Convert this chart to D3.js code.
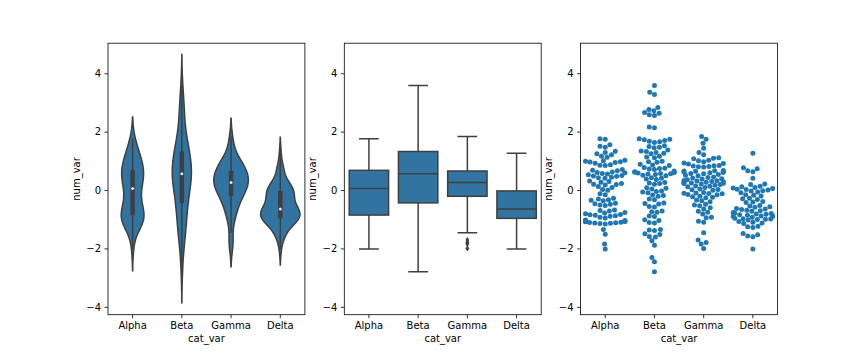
<!DOCTYPE html>
<html>
<head>
<meta charset="utf-8">
<script src="https://cdn.jsdelivr.net/npm/d3@7"></script>
<style>
  html, body { margin: 0; padding: 0; background: #ffffff; }
  svg { display: block; }
  text { font-family: "DejaVu Sans", sans-serif; }
</style>
</head>
<body>
<svg id="chart" width="864" height="360"></svg>
<script>
// ---------------- data ----------------
const categories = ["Alpha", "Beta", "Gamma", "Delta"];

const alphaValues = [1.76, 1.74, 1.55, 1.50, 1.47, 1.33, 1.29, 1.24, 1.21, 1.16, 1.12,
  1.02, 1.00, 0.99, 0.97, 0.96, 0.94, 0.92, 0.87, 0.85, 0.84, 0.70, 0.68, 0.66,
  0.62, 0.60, 0.59, 0.57, 0.55, 0.52, 0.50, 0.48, 0.47, 0.44, 0.42, 0.40,
  0.31, 0.29, 0.27, 0.22, 0.20, 0.19, 0.17, 0.12, 0.09, 0.02, -0.01, -0.13, -0.16,
  -0.28, -0.31, -0.33, -0.35, -0.37, -0.45, -0.47, -0.49, -0.51, -0.53,
  -0.68, -0.70, -0.72, -0.77, -0.79, -0.81, -0.84, -0.85, -0.86, -0.88, -0.90,
  -0.93, -0.96, -1.03, -1.04, -1.05, -1.06, -1.07, -1.08, -1.09, -1.10, -1.11,
  -1.12, -1.13, -1.14, -1.15, -1.16, -1.35, -1.51, -1.85, -2.02];

const betaValues = [3.58, 3.35, 3.27, 2.83, 2.76, 2.72, 2.66, 2.63, 2.58, 2.55, 2.16, 2.13,
  1.76, 1.74, 1.72, 1.70, 1.67, 1.65, 1.63, 1.52, 1.49, 1.47, 1.45, 1.37, 1.34, 1.32, 1.29,
  1.26, 1.24, 1.16, 1.13, 1.11, 0.99, 0.97, 0.95, 0.88, 0.86, 0.84,
  0.77, 0.75, 0.74, 0.72, 0.70, 0.65, 0.63, 0.62, 0.61, 0.60, 0.58, 0.57, 0.56, 0.55,
  0.53, 0.51, 0.49, 0.42, 0.40, 0.38, 0.36, 0.26, 0.24, 0.22, 0.20, 0.08, 0.06, 0.04,
  -0.03, -0.05, -0.07, -0.09, -0.17, -0.19, -0.21, -0.31, -0.33, -0.44, -0.46, -0.48,
  -0.56, -0.58, -0.72, -0.74, -0.76, -0.89, -0.91, -1.02, -1.04, -1.11, -1.13,
  -1.35, -1.37, -1.39, -1.50, -1.52, -1.59, -1.61, -1.74, -1.89, -2.31, -2.46, -2.80];

const gammaValues = [1.83, 1.74, 1.60, 1.43, 1.29, 1.21, 1.11, 1.09, 1.07,
  1.02, 1.00, 0.97, 0.93, 0.91, 0.89, 0.84, 0.83, 0.82, 0.81, 0.80, 0.79,
  0.67, 0.66, 0.65, 0.64, 0.63, 0.62, 0.60, 0.59, 0.57, 0.56,
  0.53, 0.51, 0.49, 0.45, 0.43, 0.41, 0.39, 0.38,
  0.35, 0.33, 0.32, 0.31, 0.29, 0.28, 0.27, 0.25, 0.24, 0.23, 0.22, 0.21, 0.19,
  0.16, 0.14, 0.13, 0.11, 0.09, 0.04, 0.02, 0.01, -0.01,
  -0.08, -0.10, -0.11, -0.12, -0.13, -0.15, -0.16, -0.21, -0.23, -0.25, -0.26,
  -0.34, -0.37, -0.40, -0.49, -0.51, -0.54, -0.61, -0.65, -0.73, -0.76, -0.82,
  -0.93, -0.95, -1.07, -1.10, -1.46, -1.71, -1.80, -1.85, -2.00];

const deltaValues = [1.26, 0.76, 0.73, 0.66, 0.63, 0.40, 0.21, 0.19, 0.13, 0.11,
  0.09, 0.07, 0.05, 0.03, 0.02, 0.00, -0.02, -0.03, -0.07, -0.09,
  -0.16, -0.18, -0.20, -0.28, -0.30, -0.32, -0.39, -0.41, -0.43,
  -0.53, -0.55, -0.57, -0.59, -0.63, -0.65, -0.67, -0.69, -0.71, -0.73,
  -0.77, -0.79, -0.80, -0.82, -0.83, -0.85, -0.86, -0.88, -0.89, -0.90, -0.91, -0.93,
  -0.97, -0.98, -0.99, -1.00, -1.01, -1.03, -1.08, -1.10, -1.13, -1.15,
  -1.24, -1.26, -1.28, -1.49, -1.53, -1.57, -1.60, -2.02];

const seriesValues = [alphaValues, betaValues, gammaValues, deltaValues];
const yTicks = [-4, -2, 0, 2, 4];
const xLabel = "cat_var";
const yLabel = "num_var";

// ---------------- styling ----------------
const fillColor = "#3274a1";
const pointColor = "#1f77b4";
const gray = "#3f3f3f";

const svg = d3.select("#chart");
const axLefts = [108, 344.3, 580.6];
const axW = 196.9;
const axTop = 43.2, axBottom = 314.7;

const y = d3.scaleLinear().domain([-4.27, 5.03]).range([axBottom, axTop]);

function stats(arr) {
  const s = arr.slice().sort(d3.ascending);
  const q1 = d3.quantileSorted(s, 0.25), q2 = d3.quantileSorted(s, 0.5), q3 = d3.quantileSorted(s, 0.75);
  const iqr = q3 - q1;
  const lo = d3.min(s.filter(v => v >= q1 - 1.5 * iqr));
  const hi = d3.max(s.filter(v => v <= q3 + 1.5 * iqr));
  const out = s.filter(v => v < lo || v > hi);
  return {q1, q2, q3, lo, hi, out};
}

function kde(arr) {
  const n = arr.length;
  const bw = Math.pow(n, -0.2) * d3.deviation(arr);
  const lo = d3.min(arr) - 2 * bw, hi = d3.max(arr) + 2 * bw;
  const grid = d3.range(100).map(i => lo + (hi - lo) * i / 99);
  return grid.map(g => ({v: g, d: d3.sum(arr, x => Math.exp(-0.5 * ((g - x) / bw) ** 2)) / (n * bw * Math.sqrt(2 * Math.PI))}));
}

function makeAxes(i) {
  const left = axLefts[i];
  const g = svg.append("g");
  const x = d3.scaleBand().domain(categories).range([left, left + axW]).padding(0);
  const clipId = "clip" + i;
  svg.append("clipPath").attr("id", clipId).append("rect")
    .attr("x", left).attr("y", axTop).attr("width", axW).attr("height", axBottom - axTop);
  const plot = g.append("g").attr("clip-path", `url(#${clipId})`);

  const yAxis = g.append("g").attr("transform", `translate(${left},0)`)
    .call(d3.axisLeft(y).tickValues(yTicks).tickSize(3.5).tickPadding(3.5)
      .tickFormat(d => d < 0 ? "\u2212" + Math.abs(d) : String(d)));
  const xAxis = g.append("g").attr("transform", `translate(0,${axBottom})`)
    .call(d3.axisBottom(x).tickSize(3.5).tickPadding(3.5));
  [yAxis, xAxis].forEach(a => {
    a.select(".domain").remove();
    a.selectAll(".tick line").attr("stroke", "#000").attr("stroke-width", 0.8);
    a.selectAll(".tick text").attr("font-size", 10).attr("fill", "#000")
      .attr("font-family", "DejaVu Sans, sans-serif");
  });
  g.append("rect").attr("x", left).attr("y", axTop).attr("width", axW).attr("height", axBottom - axTop)
    .attr("fill", "none").attr("stroke", "#000").attr("stroke-width", 0.8);

  g.append("text").attr("x", left + axW / 2).attr("y", 342).attr("text-anchor", "middle")
    .attr("font-size", 10).attr("fill", "#000").text(xLabel);
  g.append("text").attr("transform", `translate(${left - 28.5},${(axTop + axBottom) / 2}) rotate(-90)`)
    .attr("text-anchor", "middle").attr("font-size", 10).attr("fill", "#000").text(yLabel);
  return {x, plot, unit: x.bandwidth()};
}

// ---------------- violin ----------------
(function () {
  const {x, plot, unit} = makeAxes(0);
  const dens = seriesValues.map(kde);
  const maxD = d3.max(dens, ds => d3.max(ds, p => p.d));
  categories.forEach((c, i) => {
    const cx = x(c) + unit / 2;
    const area = d3.area()
      .y(p => y(p.v))
      .x0(p => cx - p.d / maxD * 0.4 * unit)
      .x1(p => cx + p.d / maxD * 0.4 * unit);
    plot.append("path").datum(dens[i]).attr("d", area)
      .attr("fill", fillColor).attr("stroke", gray).attr("stroke-width", 1.5);
    const s = stats(seriesValues[i]);
    plot.append("line").attr("x1", cx).attr("x2", cx).attr("y1", y(s.lo)).attr("y2", y(s.hi))
      .attr("stroke", gray).attr("stroke-width", 1.5);
    plot.append("line").attr("x1", cx).attr("x2", cx).attr("y1", y(s.q1)).attr("y2", y(s.q3))
      .attr("stroke", gray).attr("stroke-width", 4.5);
    plot.append("circle").attr("cx", cx).attr("cy", y(s.q2)).attr("r", 1.5)
      .attr("fill", "#fff").attr("stroke", gray).attr("stroke-width", 0.3);
  });
})();

// ---------------- box ----------------
(function () {
  const {x, plot, unit} = makeAxes(1);
  categories.forEach((c, i) => {
    const cx = x(c) + unit / 2;
    const s = stats(seriesValues[i]);
    const hw = 0.4 * unit, cw = 0.2 * unit;
    const ln = (x1, y1, x2, y2) => plot.append("line").attr("x1", x1).attr("x2", x2).attr("y1", y1).attr("y2", y2)
      .attr("stroke", gray).attr("stroke-width", 1.5);
    ln(cx, y(s.q3), cx, y(s.hi));
    ln(cx, y(s.q1), cx, y(s.lo));
    ln(cx - cw, y(s.hi), cx + cw, y(s.hi));
    ln(cx - cw, y(s.lo), cx + cw, y(s.lo));
    plot.append("rect").attr("x", cx - hw).attr("width", 2 * hw)
      .attr("y", y(s.q3)).attr("height", y(s.q1) - y(s.q3))
      .attr("fill", fillColor).attr("stroke", gray).attr("stroke-width", 1.5);
    ln(cx - hw, y(s.q2), cx + hw, y(s.q2));
    s.out.forEach(v => {
      const py = y(v);
      plot.append("path")
        .attr("d", `M${cx},${py - 2.5}L${cx + 1.5},${py}L${cx},${py + 2.5}L${cx - 1.5},${py}Z`)
        .attr("fill", gray).attr("stroke", gray).attr("stroke-width", 0.8);
    });
  });
})();

// ---------------- swarm ----------------
(function () {
  const {x, plot, unit} = makeAxes(2);
  const dia = 5;
  categories.forEach((c, i) => {
    const cx = x(c) + unit / 2;
    const pts = seriesValues[i].map(v => ({v, y: y(v)})).sort((a, b) => a.v - b.v);
    const placed = [];
    pts.forEach(p => {
      const nb = placed.filter(q => Math.abs(q.y - p.y) < dia);
      const cands = [cx];
      nb.forEach(q => {
        const dx = Math.sqrt(Math.max(dia * dia - (q.y - p.y) ** 2, 0)) * 1.05;
        cands.push(q.x - dx, q.x + dx);
      });
      const order = cands.map((cv, k) => ({cv, k})).sort((a, b) => (Math.abs(a.cv - cx) - Math.abs(b.cv - cx)) || (a.k - b.k));
      let chosen = cx;
      for (const o of order) {
        if (nb.every(q => (q.x - o.cv) ** 2 + (q.y - p.y) ** 2 >= dia * dia - 1e-6)) { chosen = o.cv; break; }
      }
      p.x = chosen;
      placed.push(p);
    });
    const lim = 0.4 * unit;
    placed.forEach(p => { p.x = Math.max(cx - lim, Math.min(cx + lim, p.x)); });
    plot.selectAll(null).data(placed).enter().append("circle")
      .attr("cx", p => p.x).attr("cy", p => p.y).attr("r", 2.5)
      .attr("fill", pointColor);
  });
})();
</script>
</body>
</html>
